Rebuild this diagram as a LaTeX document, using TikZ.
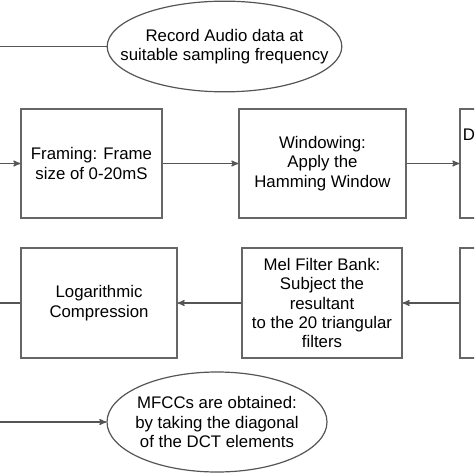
\documentclass[tikz,border=0pt]{standalone}
\usepackage{fontspec}
\setmainfont{Liberation Sans}
\usetikzlibrary{arrows,positioning,calc,shapes.geometric}
\definecolor{linegray}{HTML}{555555}
\definecolor{boxgray}{HTML}{666666}
\tikzset{
  stepbox/.style={draw=boxgray,line width=0.9pt,align=center,inner sep=0pt,
    font=\fontsize{12.6}{14.6}\selectfont},
  oval/.style={ellipse,draw=linegray,line width=0.9pt,align=center,inner ysep=0pt,
    font=\fontsize{12.6}{14.6}\selectfont},
  flow/.style={draw=linegray,line width=0.9pt},
  arr/.style={flow,->,>=stealth'}
}
\begin{document}
\begin{tikzpicture}[x=0.75pt,y=-0.75pt]
        \useasboundingbox (0,0) rectangle (474,474);
        \clip (0,0) rectangle (474,474);
        % top and bottom ovals
        \node[oval,inner xsep=-16.5pt,minimum width=176pt,minimum height=68pt] (rec) at (224.5,46.5)
          {Record Audio data at\\suitable sampling frequency};
        \node[oval,inner xsep=-4.5pt,minimum width=165pt,minimum height=75pt] (mfcc) at (217,422)
          {MFCCs are obtained:\\by taking the diagonal\\of the DCT elements};
        % first row
        \node[stepbox,minimum width=105.75pt,minimum height=81.75pt] (frm) at (91.5,163.5)
          {Framing: Frame\\size of 0-20mS};
        \node[stepbox,minimum width=125.25pt,minimum height=81.75pt] (win) at (322.5,163.5)
          {Windowing:\\Apply the\\Hamming Window};
        \node[stepbox,minimum width=120pt,minimum height=81.75pt] (dft) at (540,163.5) {};
        \node[anchor=west,inner sep=0pt,font=\fontsize{12.6}{14.6}\selectfont] (dftlbl) at (462.5,135) {D};
        % second row
        \node[stepbox,minimum width=117pt,minimum height=82.5pt] (logc) at (99,303)
          {Logarithmic\\Compression};
        \node[stepbox,minimum width=120pt,minimum height=82.5pt] (mel) at (322,303)
          {Mel Filter Bank:\\Subject the\\resultant\\to the 20 triangular\\filters};
        \node[stepbox,minimum width=120pt,minimum height=82.5pt] (pwr) at (540,303) {};
        % free ends at the left edge
        \coordinate (recin) at (0,46.5);
        \coordinate (frmin) at (0,163.5);
        \coordinate (logout) at (0,303);
        \coordinate (mfccin) at (0,422);
        % connectors
        \draw[flow] (recin) -- (rec.west);
        \draw[arr] (frmin) -- (frm.west);
        \draw[arr] (frm) -- (win);
        \draw[arr] (win) -- (dft);
        \draw[arr] (pwr) -- (mel);
        \draw[arr] (mel) -- (logc);
        \draw[flow] (logc.west) -- (logout);
        \draw[arr] (mfccin) -- (mfcc.west);
\end{tikzpicture}
\end{document}
